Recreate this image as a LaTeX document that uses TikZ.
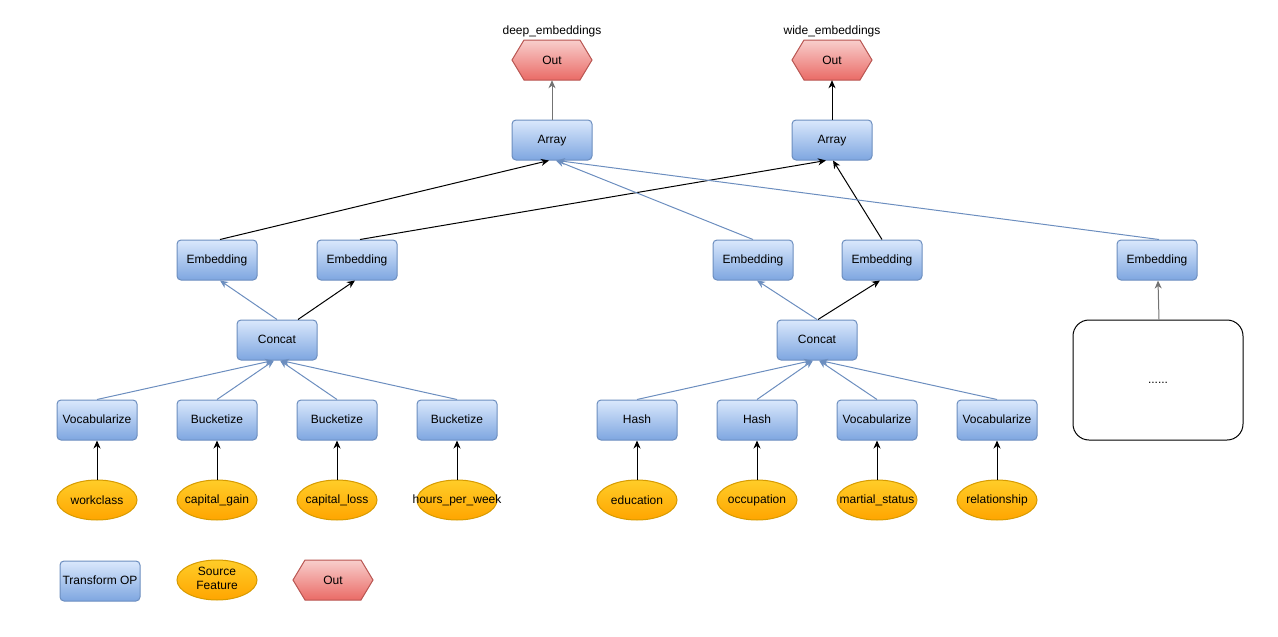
\documentclass[tikz,border=0pt]{standalone}
\usepackage{fontspec}
\setmainfont{Liberation Sans}
\usetikzlibrary{arrows.meta,shapes.geometric}
\definecolor{boxtop}{HTML}{DAE8FC}
\definecolor{boxbot}{HTML}{7EA6E0}
\definecolor{boxborder}{HTML}{6C8EBF}
\definecolor{feattop}{HTML}{FFCD28}
\definecolor{featbot}{HTML}{FFA500}
\definecolor{featborder}{HTML}{D79B00}
\definecolor{hextop}{HTML}{F8CECC}
\definecolor{hexbot}{HTML}{EA6B66}
\definecolor{hexborder}{HTML}{B85450}
\definecolor{bluedge}{HTML}{6C8EBF}
\newcommand\hexout[2]{%
  \shade[hexshade] (#2) ++(-40,0) -- ++(12,-20) -- ++(56,0) -- ++(12,20) -- ++(-12,20) -- ++(-56,0) -- cycle;
  \node[hexnode] (#1) at (#2) {Out};}
\newcommand\ft[1]{\makebox[0pt]{#1}}
\begin{document}
\begin{tikzpicture}[x=1pt,y=-1pt,
  every node/.style={font=\fontsize{12}{14}\selectfont},
  box/.style={draw=boxborder, line width=1pt, rounded corners=4pt, top color=boxtop, bottom color=boxbot, minimum width=80pt, minimum height=40pt, inner sep=0pt, text height=9.5pt, text depth=2.5pt},
  feat/.style={ellipse, draw=featborder, line width=1pt, top color=feattop, bottom color=featbot, minimum width=80pt, minimum height=40pt, inner sep=0pt},
  hexshade/.style={draw=hexborder, line width=1pt, top color=hextop, bottom color=hexbot},
  hexnode/.style={minimum width=80pt, minimum height=40pt, inner sep=0pt},
  lbl/.style={inner sep=0pt},
  tip/.style={-{Stealth[length=8pt,width=7pt,inset=2.5pt]}},
  kedge/.style={tip, line width=1pt, draw=black},
  gedge/.style={tip, line width=1pt, draw=black!55},
  bedge/.style={tip, line width=1pt, draw=bluedge},
]
\useasboundingbox (0,0) rectangle (1278,637);

% outputs
\hexout{o1}{552,60}
\hexout{o2}{832,60}
\node[lbl] (l1) at (552,31) {deep\_embeddings};
\node[lbl] (l2) at (832,31) {wide\_embeddings};

% arrays
\node[box] (arr1) at (552,140) {Array};
\node[box] (arr2) at (832,140) {Array};

% embeddings
\node[box] (emb1) at (217,260) {Embedding};
\node[box] (emb2) at (357,260) {Embedding};
\node[box] (emb3) at (753,260) {Embedding};
\node[box] (emb4) at (882,260) {Embedding};
\node[box] (emb5) at (1157,260) {Embedding};

% concat
\node[box] (cc1) at (277,340) {Concat};
\node[box] (cc2) at (817,340) {Concat};

% transforms
\node[box] (t1) at (97,420) {Vocabularize};
\node[box] (t2) at (217,420) {Bucketize};
\node[box] (t3) at (337,420) {Bucketize};
\node[box] (t4) at (457,420) {Bucketize};
\node[box] (t5) at (637,420) {Hash};
\node[box] (t6) at (757,420) {Hash};
\node[box] (t7) at (877,420) {Vocabularize};
\node[box] (t8) at (997,420) {Vocabularize};

% features
\node[feat] (f1) at (97,500) {\ft{workclass}};
\node[feat] (f2) at (217,500) {\ft{capital\_gain}};
\node[feat] (f3) at (337,500) {\ft{capital\_loss}};
\node[feat] (f4) at (457,500) {\ft{hours\_per\_week}};
\node[feat] (f5) at (637,500) {\ft{education}};
\node[feat] (f6) at (757,500) {\ft{occupation}};
\node[feat] (f7) at (877,500) {\ft{martial\_status}};
\node[feat] (f8) at (997,500) {\ft{relationship}};

% big box
\node[draw, line width=1pt, rounded corners=16pt, minimum width=170pt, minimum height=120pt, inner sep=0pt, text height=6pt, text depth=0pt] (big) at (1158,380) {......};

% legend
\node[box] (leg1) at (100,581) {Transform OP};
\node[feat] (leg2) at (217,580) {\ft{\begin{tabular}{@{}c@{}}Source\\[0pt]Feature\end{tabular}}};
\hexout{leg3}{333,580}

% edges: outputs
\draw[gedge] (arr1.north) -- (o1.south);
\draw[kedge] (arr2.north) -- (o2.south);

% embeddings -> arrays
\draw[kedge] ([xshift=3]emb1.north) -- ([xshift=-3]arr1.south);
\draw[kedge] ([xshift=3]emb2.north) -- ([xshift=-6]arr2.south);
\draw[bedge] (emb3.north) -- ([xshift=4]arr1.south);
\draw[kedge] (emb4.north) -- ([xshift=1]arr2.south);
\draw[bedge] ([xshift=2]emb5.north) -- ([xshift=5]arr1.south);

% concat -> embeddings
\draw[bedge] (cc1.north) -- ([xshift=3]emb1.south);
\draw[kedge] ([xshift=21]cc1.north) -- ([xshift=-2]emb2.south);
\draw[bedge] (cc2.north) -- ([xshift=4]emb3.south);
\draw[kedge] ([xshift=1]cc2.north) -- ([xshift=-2]emb4.south);

% transforms -> concat
\draw[bedge] (t1.north) -- ([xshift=-4]cc1.south);
\draw[bedge] (t2.north) -- ([xshift=-3]cc1.south);
\draw[bedge] (t3.north) -- ([xshift=3]cc1.south);
\draw[bedge] (t4.north) -- ([xshift=4]cc1.south);
\draw[bedge] (t5.north) -- ([xshift=-5]cc2.south);
\draw[bedge] (t6.north) -- ([xshift=-4]cc2.south);
\draw[bedge] (t7.north) -- ([xshift=2]cc2.south);
\draw[bedge] (t8.north) -- ([xshift=3]cc2.south);

% features -> transforms
\foreach \i in {1,...,8} {\draw[kedge] (f\i.north) -- (t\i.south);}

% big -> emb5
\draw[gedge] ([xshift=1]big.north) -- ([xshift=1]emb5.south);
\end{tikzpicture}
\end{document}
